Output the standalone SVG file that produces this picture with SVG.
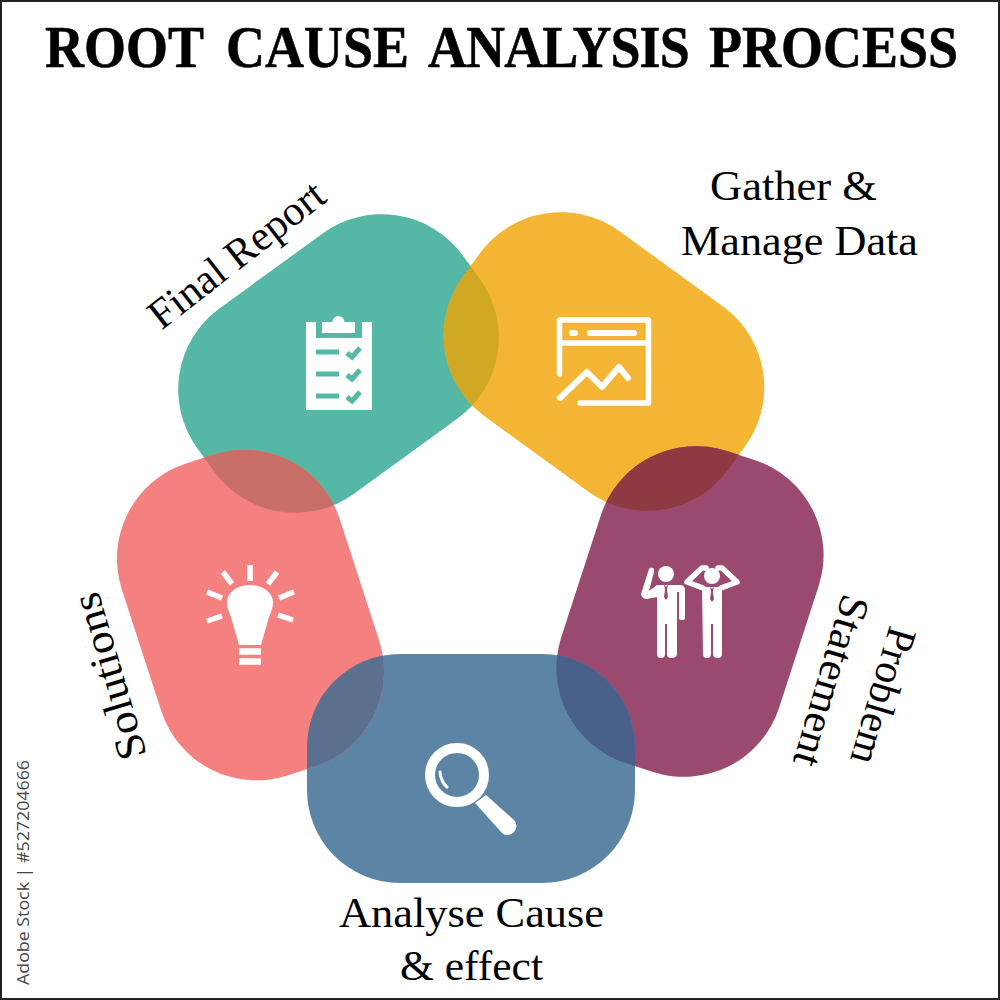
<svg xmlns="http://www.w3.org/2000/svg" width="1000" height="1000" viewBox="0 0 1000 1000">
<style>
text{font-family:"Liberation Serif",serif;fill:#000}
.l{font-size:42px;text-anchor:middle}
.w{fill:#fff}
.ws{fill:none;stroke:#fff;stroke-linecap:round;stroke-linejoin:round}
.t{fill:none;stroke:#55b7a5;stroke-width:5}
.r{fill:none;stroke:#fff;stroke-width:5.500}
</style>
<defs>
<rect id="s" x="-164" y="-114.500" width="328" height="229" rx="100" ry="100"/>
<rect id="b" x="-164" y="-114.500" width="328" height="229" rx="93" ry="93"/>
<clipPath id="cT"><use href="#s" transform="translate(338.500 363.500) rotate(-36)"/></clipPath>
<clipPath id="cY"><use href="#s" transform="translate(604 361.500) rotate(36)"/></clipPath>
<clipPath id="cP"><use href="#s" transform="translate(690 611.500) rotate(-72)"/></clipPath>
<clipPath id="cB"><use href="#b" transform="translate(471 768.500)"/></clipPath>
<clipPath id="cS"><use href="#s" transform="translate(250.500 615) rotate(72)"/></clipPath>
</defs>
<rect x="1" y="1" width="998" height="998" fill="#fff" stroke="#222" stroke-width="2"/>
<text id="title" transform="scale(1 1.08)" y="62" font-size="54" font-weight="bold" stroke="#000" stroke-width="0.500"><tspan x="45">ROOT</tspan> <tspan x="226">CAUSE</tspan> <tspan x="428" letter-spacing="-0.900">ANALYSIS</tspan> <tspan x="709">PROCESS</tspan></text>
<g id="shapes">
<use id="shape-final" href="#s" transform="translate(338.500 363.500) rotate(-36)" fill="#55b7a5"/>
<use id="shape-gather" href="#s" transform="translate(604 361.500) rotate(36)" fill="#f3b533"/>
<use id="shape-problem" href="#s" transform="translate(690 611.500) rotate(-72)" fill="#9a4a6f"/>
<use id="shape-analyse" href="#b" transform="translate(471 768.500)" fill="#5c85a5"/>
<use id="shape-solutions" href="#s" transform="translate(250.500 615) rotate(72)" fill="#f58080"/>
<g clip-path="url(#cT)"><use href="#s" transform="translate(604 361.500) rotate(36)" fill="#d0a823"/></g>
<g clip-path="url(#cY)"><use href="#s" transform="translate(690 611.500) rotate(-72)" fill="#8f3a42"/></g>
<g clip-path="url(#cP)"><use href="#b" transform="translate(471 768.500)" fill="#48608a"/></g>
<g clip-path="url(#cB)"><use href="#s" transform="translate(250.500 615) rotate(72)" fill="#5b6f8e"/></g>
<g clip-path="url(#cS)"><use href="#s" transform="translate(338.500 363.500) rotate(-36)" fill="#c87068"/></g>
</g>
<g id="node-final">
<text class="l" transform="translate(245 265.500) rotate(-38)" textLength="212" lengthAdjust="spacingAndGlyphs">Final Report</text>
<rect class="w" x="306" y="322" width="66" height="88"/>
<rect x="316" y="322" width="46" height="16" fill="#55b7a5"/>
<rect class="w" x="322" y="322" width="33" height="11"/>
<circle class="w" cx="338.500" cy="322" r="6"/>
<path class="t" d="M316 352H339M316 374H339M316 396H339"/>
<path class="t" d="M347 353L352 357L360 348M347 375L352 379L360 370M347 397L352 401L360 392"/>
</g>
<g id="node-gather">
<text class="l" x="793.500" y="200" textLength="167" lengthAdjust="spacingAndGlyphs">Gather &amp;</text>
<text class="l" x="799.500" y="255" textLength="237" lengthAdjust="spacingAndGlyphs">Manage Data</text>
<path class="ws" stroke-width="5.500" d="M559.500 374V320H648.500V403H580M559.500 343H648.500"/>
<path class="ws" stroke-width="6" d="M560 398L587 372L602 387L619 367L628 378"/>
<path class="ws" stroke-width="6" d="M572 333H575M590 333H634"/>
</g>
<g id="node-problem">
<text class="l" transform="translate(870 692) rotate(106.500)" textLength="141" lengthAdjust="spacingAndGlyphs">Problem</text>
<text class="l" transform="translate(818 677) rotate(106.500)" textLength="177" lengthAdjust="spacingAndGlyphs">Statement</text>
<circle class="w" cx="666" cy="574" r="8"/>
<path class="w" d="M657 585H680Q685 585 685 590V618Q685 620 682 620Q679 620 679 618V592H677V654Q677 658 671 658Q667 658 667 654V624H665V654Q665 658 661 658Q657 658 657 654V597L647 599Q642 599 641 594L649 569Q651 566 654 569L654 572L649 591L657 585Z"/>
<path d="M664 584L666 587L668 584L667 590L668 597L666 600L664 597L665 590Z" fill="#9a4a6f"/>
<circle class="w" cx="712" cy="576" r="8"/>
<path class="w" d="M702 587H722V654Q722 658 718 658Q713 658 713 654V624H711V654Q711 658 707 658Q703 658 703 654Z"/>
<path class="ws" stroke-width="5.500" d="M703 588L687 582L702 568H706M721 588L737 582L722 568H718"/>
<path d="M710 586L712 589L714 586L713 592L714 599L712 602L710 599L711 592Z" fill="#9a4a6f"/>
</g>
<g id="node-analyse">
<text class="l" x="471.500" y="927" textLength="265" lengthAdjust="spacingAndGlyphs">Analyse Cause</text>
<text class="l" x="471.500" y="980" textLength="143" lengthAdjust="spacingAndGlyphs">&amp; effect</text>
<circle cx="457" cy="775" r="27" fill="none" stroke="#fff" stroke-width="10"/>
<path d="M440 772Q441 782 447 787" fill="none" stroke="#fff" stroke-width="3" stroke-linecap="round"/>
<path class="w" d="M475 803L486 795L514 820Q519 826 514 832Q508 838 502 833Z"/>
</g>
<g id="node-solutions">
<text class="l" transform="translate(122.500 672.500) rotate(-106.500)" textLength="172" lengthAdjust="spacingAndGlyphs">Solutions</text>
<path class="w" d="M250 585C264 585 273 594 273 602C273 608 271 612 269 617L261 645H239L231 617C229 612 227 608 227 602C227 594 236 585 250 585Z"/>
<path d="M239 651.500H261M239 661.500H261" stroke="#fff" stroke-width="6.500"/>
<path class="r" d="M250 565V581M223 572L232 584M277 572L268 584M207 592L222 598M294 592L279 598M207 621L222 616M293 620L278 615"/>
</g>
<text id="stock-id" transform="translate(29 985) rotate(-90)" font-size="17" style="font-family:'Open Sans',sans-serif;fill:#444" textLength="225" lengthAdjust="spacingAndGlyphs">Adobe Stock | #527204666</text>
</svg>
